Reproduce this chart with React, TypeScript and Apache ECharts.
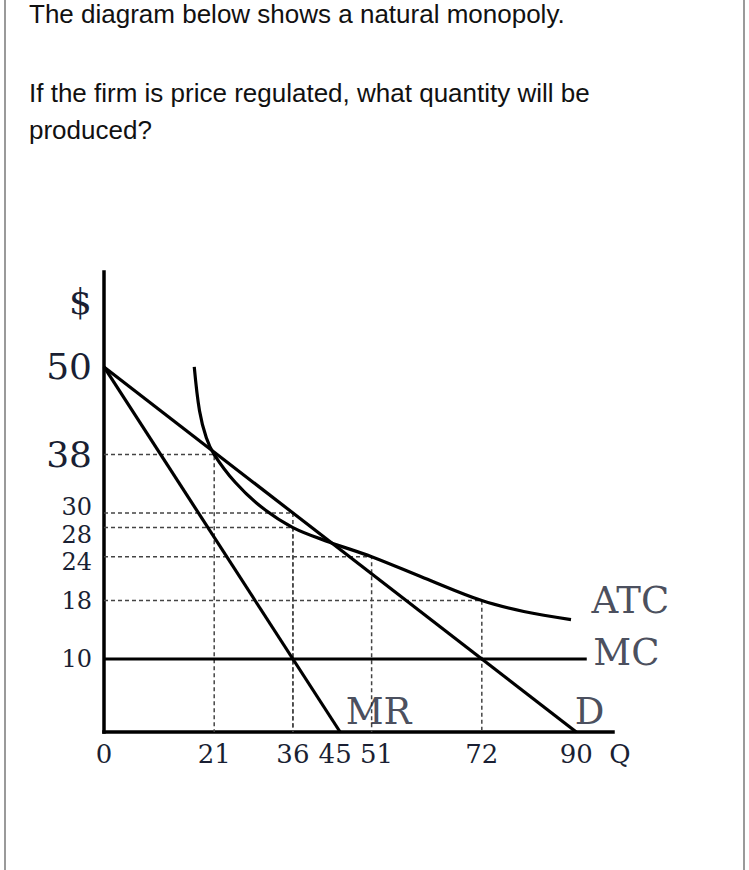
import React, { useEffect, useRef } from "react";
import * as echarts from "echarts";

// ---- text ----
const questionLines = [
  "The diagram below shows a natural monopoly.",
  "If the firm is price regulated, what quantity will be",
  "produced?",
];

// ---- axes ----
const xTicks = [0, 21, 36, 45, 51, 72, 90];
const yTicks = [10, 18, 24, 28, 30, 38, 50];
const yBigTicks = [38, 50];
const xAxisMax = 97;
const yAxisMax = 63;

// ---- curves (Q, P) ----
const demandQ = [0, 90];
const demandP = [50, 0];
const mrQ = [0, 45];
const mrP = [50, 0];
const mcQ = [0, 92];
const mcP = [10, 10];
const atcQ = [17.2, 18.2, 19.5, 21, 25, 30, 36, 43, 51, 61, 72, 80, 89];
const atcP = [50, 44, 40.3, 38, 34.2, 30.8, 28, 26.0, 24, 21.1, 18, 16.5, 15.4];

// ---- dashed guides: horizontal from (0,P) to (Q,P), then down to (Q,0) ----
const guideQ = [21, 36, 36, 51, 72];
const guideP = [38, 30, 28, 24, 18];

const zip = (qs: number[], ps: number[]) => qs.map((q, i) => [q, ps[i]]);
const last = (qs: number[], ps: number[]) => [qs[qs.length - 1], ps[ps.length - 1]];

const SERIF = '"DejaVu Serif", serif';
const SANS = '"Liberation Sans", Arial, sans-serif';
const LABEL_COLOR = "#1a1f33";

export default function App() {
  const ref = useRef<HTMLDivElement>(null);

  useEffect(() => {
    if (!ref.current) return;
    const chart = echarts.init(ref.current, undefined, { renderer: "svg" });

    const solid = { color: "#000", width: 3.2 };
    const guideSeries = guideQ.map((q, i) => ({
      type: "line",
      data: [
        [0, guideP[i]],
        [q, guideP[i]],
        [q, 0],
      ],
      showSymbol: false,
      symbol: "none",
      silent: true,
      lineStyle: { color: "#444", width: 1.5, type: [4, 3] },
      z: 1,
    }));

    const curve = (data: number[][], smooth: number | boolean = false) => ({
      type: "line",
      data,
      smooth,
      showSymbol: false,
      symbol: "none",
      silent: true,
      lineStyle: solid,
      z: 3,
    });

    const ySmall = { fontFamily: SERIF, fontSize: 24, color: LABEL_COLOR };
    const xStyle = { fontFamily: SERIF, fontSize: 26, color: LABEL_COLOR };

    const option: any = {
      animation: false,
      grid: {
        left: 104,
        top: 272,
        right: 136,
        bottom: 138,
        containLabel: false,
        outerBoundsMode: "none",
      },
      xAxis: {
        type: "value",
        min: 0,
        max: xAxisMax,
        name: "Q",
        nameLocation: "end",
        nameGap: 7,
        nameTextStyle: {
          fontFamily: SERIF,
          fontSize: 26,
          color: LABEL_COLOR,
          align: "center",
          verticalAlign: "top",
          lineHeight: 44,
        },
        axisLine: { show: true, onZero: false, lineStyle: { color: "#000", width: 3.5, cap: "square" } },
        axisTick: { show: false },
        splitLine: { show: false },
        axisLabel: {
          customValues: xTicks,
          margin: 9,
          ...xStyle,
          formatter: (v: number) => (v === 45 ? `{l|${v}}` : v === 51 ? `{r|${v}}` : `{n|${v}}`),
          rich: {
            n: xStyle,
            l: { ...xStyle, padding: [0, 10, 0, 0] },
            r: { ...xStyle, padding: [0, 0, 0, 10] },
          },
        },
      },
      yAxis: {
        type: "value",
        min: 0,
        max: yAxisMax,
        name: "$",
        nameLocation: "end",
        nameGap: -29,
        nameTextStyle: {
          fontFamily: SERIF,
          fontSize: 36,
          color: LABEL_COLOR,
          align: "right",
          verticalAlign: "middle",
          padding: [0, 12, 0, 0],
        },
        axisLine: { show: true, onZero: false, lineStyle: { color: "#000", width: 3.5, cap: "square" } },
        axisTick: { show: false },
        splitLine: { show: false },
        axisLabel: {
          customValues: yTicks,
          margin: 12,
          fontFamily: SERIF,
          color: LABEL_COLOR,
          formatter: (v: number) =>
            yBigTicks.includes(v)
              ? `{big|${v}}`
              : v === 30
              ? `{up|${v}}`
              : v === 28
              ? `{down|${v}}`
              : v === 24
              ? `{down2|${v}}`
              : `{small|${v}}`,
          rich: {
            big: { fontFamily: SERIF, fontSize: 36, color: LABEL_COLOR },
            small: ySmall,
            up: { ...ySmall, padding: [0, 0, 12, 0] },
            down: { ...ySmall, padding: [14, 0, 0, 0] },
            down2: { ...ySmall, padding: [10, 0, 0, 0] },
          },
        },
      },
      graphic: [
        { type: "rect", shape: { x: 4, y: 0, width: 2, height: 870 }, style: { fill: "#9a9a9a" }, silent: true },
        { type: "rect", shape: { x: 743, y: 0, width: 2, height: 870 }, style: { fill: "#9a9a9a" }, silent: true },
        ...questionLines.map((t, i) => ({
          type: "text",
          x: 29,
          y: [14, 92.5, 129.5][i],
          silent: true,
          style: {
            text: t,
            font: `26px ${SANS}`,
            fill: "#111",
            verticalAlign: "middle",
            align: "left",
          },
        })),
      ],
      series: [
        ...guideSeries,
        curve(zip(demandQ, demandP)),
        curve(zip(mrQ, mrP)),
        curve(zip(mcQ, mcP)),
        curve(zip(atcQ, atcP), 0.35),
        {
          type: "scatter",
          symbolSize: 1,
          silent: true,
          itemStyle: { color: "rgba(0,0,0,0)" },
          z: 5,
          label: {
            show: true,
            position: "right",
            distance: 0,
            fontFamily: SERIF,
            fontSize: 37,
            color: LABEL_COLOR,
          },
          data: [
            { value: last(atcQ, atcP), label: { formatter: "ATC", offset: [20, -19] } },
            { value: last(mcQ, mcP), label: { formatter: "MC", offset: [6, -6] } },
            { value: last(mrQ, mrP), label: { formatter: "MR", offset: [5, -21] } },
            { value: last(demandQ, demandP), label: { formatter: "D", offset: [-2, -21] } },
          ],
        },
      ],
    };

    chart.setOption(option);
    return () => chart.dispose();
  }, []);

  return (
    <div
      ref={ref}
      style={{ position: "absolute", left: 0, top: 0, width: 749, height: 870, background: "#fff" }}
    />
  );
}
